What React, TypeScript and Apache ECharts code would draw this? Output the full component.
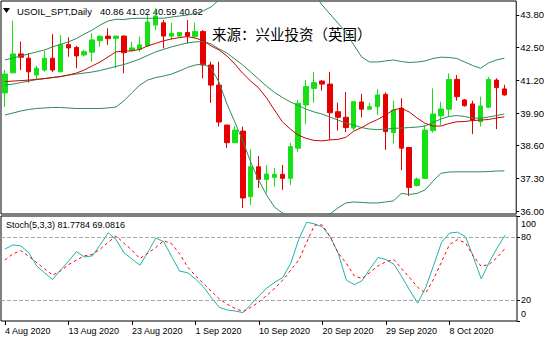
import React, { useEffect, useRef } from 'react';
import * as echarts from 'echarts';

const categories: string[] = [
  '4 Aug 2020', '5 Aug 2020', '6 Aug 2020', '7 Aug 2020', '9 Aug 2020', '10 Aug 2020', '11 Aug 2020', '12 Aug 2020',
  '13 Aug 2020', '14 Aug 2020', '16 Aug 2020', '17 Aug 2020', '18 Aug 2020', '19 Aug 2020', '20 Aug 2020', '21 Aug 2020',
  '23 Aug 2020', '24 Aug 2020', '25 Aug 2020', '26 Aug 2020', '27 Aug 2020', '28 Aug 2020', '30 Aug 2020', '31 Aug 2020',
  '1 Sep 2020', '2 Sep 2020', '3 Sep 2020', '4 Sep 2020', '6 Sep 2020', '7 Sep 2020', '8 Sep 2020', '9 Sep 2020',
  '10 Sep 2020', '11 Sep 2020', '13 Sep 2020', '14 Sep 2020', '15 Sep 2020', '16 Sep 2020', '17 Sep 2020', '18 Sep 2020',
  '20 Sep 2020', '21 Sep 2020', '22 Sep 2020', '23 Sep 2020', '24 Sep 2020', '25 Sep 2020', '27 Sep 2020', '28 Sep 2020',
  '29 Sep 2020', '30 Sep 2020', '1 Oct 2020', '2 Oct 2020', '4 Oct 2020', '5 Oct 2020', '6 Oct 2020', '7 Oct 2020',
  '8 Oct 2020', '9 Oct 2020', '11 Oct 2020', '12 Oct 2020', '13 Oct 2020', '14 Oct 2020', '15 Oct 2020', '16 Oct 2020',
  '',
];

// [open, close, low, high]
const ohlc: number[][] = [
  [40.70, 41.45, 40.14, 41.62], [41.50, 42.25, 41.48, 43.57], [42.25, 42.12, 41.61, 42.74], [42.08, 41.54, 41.11, 42.28],
  [41.41, 41.68, 41.21, 41.77], [41.61, 42.08, 41.54, 42.37], [42.08, 41.61, 41.53, 43.04], [41.54, 42.62, 41.53, 43.00],
  [42.62, 42.49, 42.14, 42.91], [42.51, 42.17, 41.68, 42.57], [42.21, 42.34, 42.14, 42.41], [42.32, 42.81, 41.94, 43.07],
  [42.78, 42.95, 42.54, 43.00], [42.96, 42.86, 42.61, 43.27], [42.87, 42.96, 41.68, 42.97], [42.96, 42.30, 41.48, 43.00],
  [42.39, 42.49, 42.34, 42.74], [42.43, 42.61, 42.34, 42.94], [42.57, 43.52, 42.54, 43.80], [43.40, 43.76, 43.20, 44.07],
  [43.49, 42.96, 42.47, 43.60], [42.96, 43.07, 42.81, 43.49], [42.96, 43.10, 42.94, 43.12], [43.10, 42.96, 42.67, 43.60],
  [42.94, 43.14, 42.87, 43.49], [43.14, 41.81, 41.28, 43.20], [41.81, 41.01, 40.30, 41.94], [41.01, 39.54, 39.36, 41.94],
  [39.42, 38.72, 38.51, 39.44], [38.72, 39.22, 38.72, 39.38], [39.18, 36.52, 36.12, 39.36], [36.57, 37.76, 36.24, 38.46],
  [37.76, 37.26, 36.92, 38.19], [37.26, 37.47, 36.72, 37.83], [37.34, 37.46, 36.97, 37.71], [37.46, 37.30, 36.84, 37.83],
  [37.30, 38.56, 37.03, 38.71], [38.50, 40.29, 38.36, 40.42], [40.22, 40.95, 39.46, 41.21], [40.88, 41.11, 40.31, 41.54],
  [41.17, 41.05, 40.79, 41.21], [41.05, 39.91, 38.83, 41.54], [39.95, 39.73, 39.20, 40.31], [39.73, 39.32, 39.14, 40.74],
  [39.30, 40.35, 39.22, 40.38], [40.34, 40.05, 39.72, 40.66], [40.05, 40.15, 40.02, 40.31], [40.15, 40.62, 39.82, 40.84],
  [40.64, 39.16, 38.43, 40.72], [39.12, 40.02, 38.69, 40.39], [40.09, 38.50, 37.63, 40.49], [38.53, 36.94, 36.60, 38.55],
  [37.01, 37.27, 36.98, 37.33], [37.30, 39.22, 37.27, 39.42], [39.20, 39.86, 39.12, 40.88], [39.79, 40.06, 39.42, 40.35],
  [40.05, 41.24, 39.78, 41.48], [41.24, 40.55, 40.39, 41.41], [40.42, 40.19, 40.15, 40.46], [40.26, 39.62, 39.06, 40.39],
  [39.55, 40.18, 39.36, 40.55], [40.13, 41.24, 40.10, 41.34], [41.21, 40.91, 39.26, 41.28], [40.86, 40.62, 40.59, 41.02],
];

const maRed: number[] = [
  41.15, 41.17, 41.19, 41.21, 41.24, 41.27, 41.31, 41.35, 41.41, 41.49,
  41.61, 41.77, 41.93, 42.13, 42.33, 42.37, 42.37, 42.43, 42.57, 42.67,
  42.77, 42.85, 42.90, 42.94, 42.88, 42.79, 42.57, 42.41, 42.17, 41.85,
  41.48, 41.17, 40.90, 40.50, 40.02, 39.55, 39.26, 39.02, 38.89, 38.81,
  38.79, 38.83, 38.85, 38.93, 39.18, 39.32, 39.50, 39.64, 39.82, 40.02,
  40.09, 39.94, 39.70, 39.49, 39.38, 39.38, 39.48, 39.55, 39.56, 39.60,
  39.62, 39.64, 39.70, 39.75,
];

const bandMid: number[] = [
  41.01, 41.05, 41.11, 41.17, 41.23, 41.27, 41.31, 41.35, 41.41, 41.45,
  41.49, 41.53, 41.59, 41.67, 41.75, 41.83, 41.93, 42.05, 42.19, 42.33,
  42.43, 42.53, 42.61, 42.69, 42.73, 42.74, 42.65, 42.45, 42.29, 42.05,
  41.81, 41.53, 41.25, 40.97, 40.72, 40.52, 40.34, 40.20, 40.05, 39.94,
  39.86, 39.74, 39.62, 39.50, 39.42, 39.32, 39.26, 39.24, 39.26, 39.29,
  39.30, 39.32, 39.34, 39.38, 39.52, 39.66, 39.76, 39.80, 39.76, 39.70,
  39.69, 39.74, 39.80, 39.86,
];

const bandUpper: number[] = [
  42.01, 42.09, 42.17, 42.25, 42.33, 42.41, 42.53, 42.63, 42.73, 42.86,
  43.04, 43.20, 43.40, 43.56, 43.63, 43.62, 43.66, 43.67, 43.67, 43.67,
  43.67, 43.72, 43.76, 43.80, 43.86, 43.96, 44.12, 44.40, 44.72, 44.95,
  45.19, 45.35, 45.43, 45.47, 45.47, 45.43, 45.35, 45.19, 44.95, 44.64,
  44.20, 43.84, 43.48, 43.12, 42.61, 42.13, 41.93, 41.93, 41.97, 42.01,
  41.95, 41.91, 41.93, 41.97, 42.07, 42.12, 42.11, 42.07, 41.93, 41.79,
  41.68, 41.89, 42.01, 42.08,
];

const bandLower: number[] = [
  39.82, 39.90, 39.98, 40.04, 40.08, 40.10, 40.12, 40.12, 40.10, 40.08,
  40.08, 40.08, 40.08, 40.10, 40.14, 40.38, 40.70, 41.01, 41.21, 41.31,
  41.37, 41.45, 41.57, 41.71, 41.81, 41.85, 41.69, 41.13, 40.26, 39.54,
  38.79, 37.95, 37.23, 36.64, 36.16, 35.92, 35.80, 35.74, 35.72, 35.76,
  35.80, 35.88, 36.12, 36.32, 36.36, 36.34, 36.32, 36.32, 36.36, 36.40,
  36.70, 36.66, 36.70, 36.84, 37.19, 37.50, 37.55, 37.56, 37.56, 37.56,
  37.56, 37.57, 37.59, 37.60,
];

const stochK: number[] = [
  68.5, 72.5, 71.5, 65, 52.4, 45.8, 39.5, 48.5, 57, 66,
  61, 62, 72.5, 84, 77.5, 65, 59, 53.2, 65.5, 79,
  75.5, 61.3, 47.5, 46, 40, 32.5, 22.3, 13, 10.5, 9.5,
  8, 16, 24, 31.5, 37, 41.5, 55, 77.5, 94, 92.5,
  89.5, 80, 64, 39, 34.6, 38.5, 50, 60.5, 58.5, 54,
  42, 29, 17, 32, 53, 75, 83.7, 84.6, 80.3, 61,
  40, 56, 69.5, 81.7784,
];

const stochD: number[] = [
  58, 64, 67, 61.6, 55.6, 49.6, 43.7, 47.7, 53.6, 58,
  62, 63.5, 68.5, 75, 81, 74, 67.5, 59.5, 64.5, 70,
  76.5, 73.5, 64, 51.5, 43, 35.6, 28.4, 21, 16, 11.9,
  9.1, 13, 18.3, 24.5, 31.3, 39, 48.5, 57.8, 75, 91.4,
  91.4, 79.7, 64.5, 55, 43, 40.5, 46.5, 52.6, 56.5, 58.5,
  49.5, 41, 32, 26.5, 40, 56.5, 72.8, 77.5, 74.5, 62,
  52, 54, 60.5, 69.0816,
];

const priceTicks: number[] = [36.0, 37.3, 38.6, 39.9, 41.2, 42.5, 43.8];
const stochTicks: number[] = [0, 20, 80, 100];
const stochLevels: number[] = [20, 80];

const symbolName = 'USOIL_SPT,Daily';
const sourceText = '来源：兴业投资（英国）';

const FONT = '"Liberation Sans", Arial, sans-serif';
const GREEN = '#14e014';
const RED = '#e80000';
const TEAL = '#2e8b57';

export default function App() {
  const ref = useRef<HTMLDivElement>(null);

  useEffect(() => {
    document.body.style.margin = '0';
    const chart = echarts.init(ref.current as HTMLDivElement, null, { renderer: 'svg' });
    const last = ohlc[ohlc.length - 1];
    const k = stochK[stochK.length - 1];
    const d = stochD[stochD.length - 1];
    const showIdx = (i: number) => i % 8 === 0 && i < ohlc.length;

    const option: any = {
      animation: false,
      backgroundColor: '#ffffff',
      textStyle: { fontFamily: FONT },
      graphic: [
        { type: 'polygon', shape: { points: [[3, 8], [10, 8], [6.5, 13]] }, style: { fill: '#000' } },
        {
          type: 'text', x: 17, y: 11,
          style: {
            text: `${symbolName}   ${last[0].toFixed(2)} ${last[3].toFixed(2)} ${last[2].toFixed(2)} ${last[1].toFixed(2)}`,
            fill: '#000', font: `9.5px ${FONT}`, verticalAlign: 'middle',
          },
        },
        {
          type: 'text', x: 212, y: 33,
          style: { text: sourceText, fill: '#000', font: '14.5px "Noto Sans CJK SC"', verticalAlign: 'middle' },
        },
        {
          type: 'text', x: 6, y: 225,
          style: {
            text: `Stoch(5,3,3) ${k.toFixed(4)} ${d.toFixed(4)}`,
            fill: '#000', font: `9px ${FONT}`, verticalAlign: 'middle',
          },
        },
      ],
      grid: [
        { left: 1, right: 30, top: 1, height: 213, show: true, borderColor: '#000', borderWidth: 1, backgroundColor: '#fff' },
        { left: 1, right: 30, top: 216, height: 105, show: true, borderColor: '#000', borderWidth: 1, backgroundColor: '#fff' },
      ],
      xAxis: [
        { type: 'category', gridIndex: 0, data: categories, boundaryGap: true, show: false },
        {
          type: 'category', gridIndex: 1, data: categories, boundaryGap: true,
          axisLine: { show: false },
          axisTick: { show: true, alignWithLabel: true, interval: (i: number) => showIdx(i), length: 4, lineStyle: { color: '#000' } },
          axisLabel: { interval: (i: number) => showIdx(i), align: 'left', fontSize: 9, color: '#000', margin: 5 },
          splitLine: { show: false },
        },
      ],
      yAxis: [
        {
          type: 'value', gridIndex: 0, position: 'right', min: 35.881, max: 44.357,
          splitLine: { show: false }, axisLine: { show: false },
          axisTick: { show: true, length: 3, customValues: priceTicks, lineStyle: { color: '#000' } },
          axisLabel: { customValues: priceTicks, formatter: (v: number) => v.toFixed(2), fontSize: 9.5, color: '#000', margin: 4 },
        },
        {
          type: 'value', gridIndex: 1, position: 'right', min: 0, max: 100,
          splitLine: { show: false }, axisLine: { show: false },
          axisTick: { show: true, length: 3, customValues: stochTicks, lineStyle: { color: '#000' } },
          axisLabel: {
            customValues: stochTicks, fontSize: 9, color: '#000', margin: 4,
            formatter: (v: number) => (v === 100 ? '{t|100}' : v === 0 ? '{b|0}' : String(v)),
            rich: { t: { padding: [16, 0, 0, 0], fontSize: 9 }, b: { padding: [0, 0, 14, 0], fontSize: 9 } },
          },
        },
      ],
      series: [
        {
          type: 'candlestick', xAxisIndex: 0, yAxisIndex: 0, data: ohlc, barWidth: 5,
          itemStyle: { color: GREEN, color0: RED, borderColor: GREEN, borderColor0: RED, borderWidth: 1 },
          markLine: {
            silent: true, symbol: ['none', 'none'], animation: false,
            lineStyle: { opacity: 0 },
            label: {
              show: true, position: 'end', distance: 5, formatter: (p: any) => Number(p.value).toFixed(2),
              backgroundColor: '#000', color: '#fff', fontSize: 9.5, padding: [1, 2, 0, 2],
            },
            data: [{ yAxis: last[1] }],
          },
        },
        { type: 'line', xAxisIndex: 0, yAxisIndex: 0, data: bandUpper, showSymbol: false, lineStyle: { color: TEAL, width: 1 } },
        { type: 'line', xAxisIndex: 0, yAxisIndex: 0, data: bandMid, showSymbol: false, lineStyle: { color: TEAL, width: 1 } },
        { type: 'line', xAxisIndex: 0, yAxisIndex: 0, data: bandLower, showSymbol: false, lineStyle: { color: TEAL, width: 1 } },
        { type: 'line', xAxisIndex: 0, yAxisIndex: 0, data: maRed, showSymbol: false, lineStyle: { color: '#cc0000', width: 1 } },
        {
          type: 'line', xAxisIndex: 1, yAxisIndex: 1, data: stochK, showSymbol: false,
          lineStyle: { color: '#20b2aa', width: 1 },
          markLine: {
            silent: true, symbol: ['none', 'none'], label: { show: false },
            lineStyle: { color: '#a8a8a8', type: 'dashed', width: 1 },
            data: stochLevels.map((v) => ({ yAxis: v })),
          },
        },
        {
          type: 'line', xAxisIndex: 1, yAxisIndex: 1, data: stochD, showSymbol: false,
          lineStyle: { color: '#ff0000', width: 1, type: [3, 3] },
        },
      ],
    };

    chart.setOption(option);
    return () => chart.dispose();
  }, []);

  return <div ref={ref} style={{ position: 'absolute', left: 0, top: 0, width: 547, height: 337 }} />;
}
